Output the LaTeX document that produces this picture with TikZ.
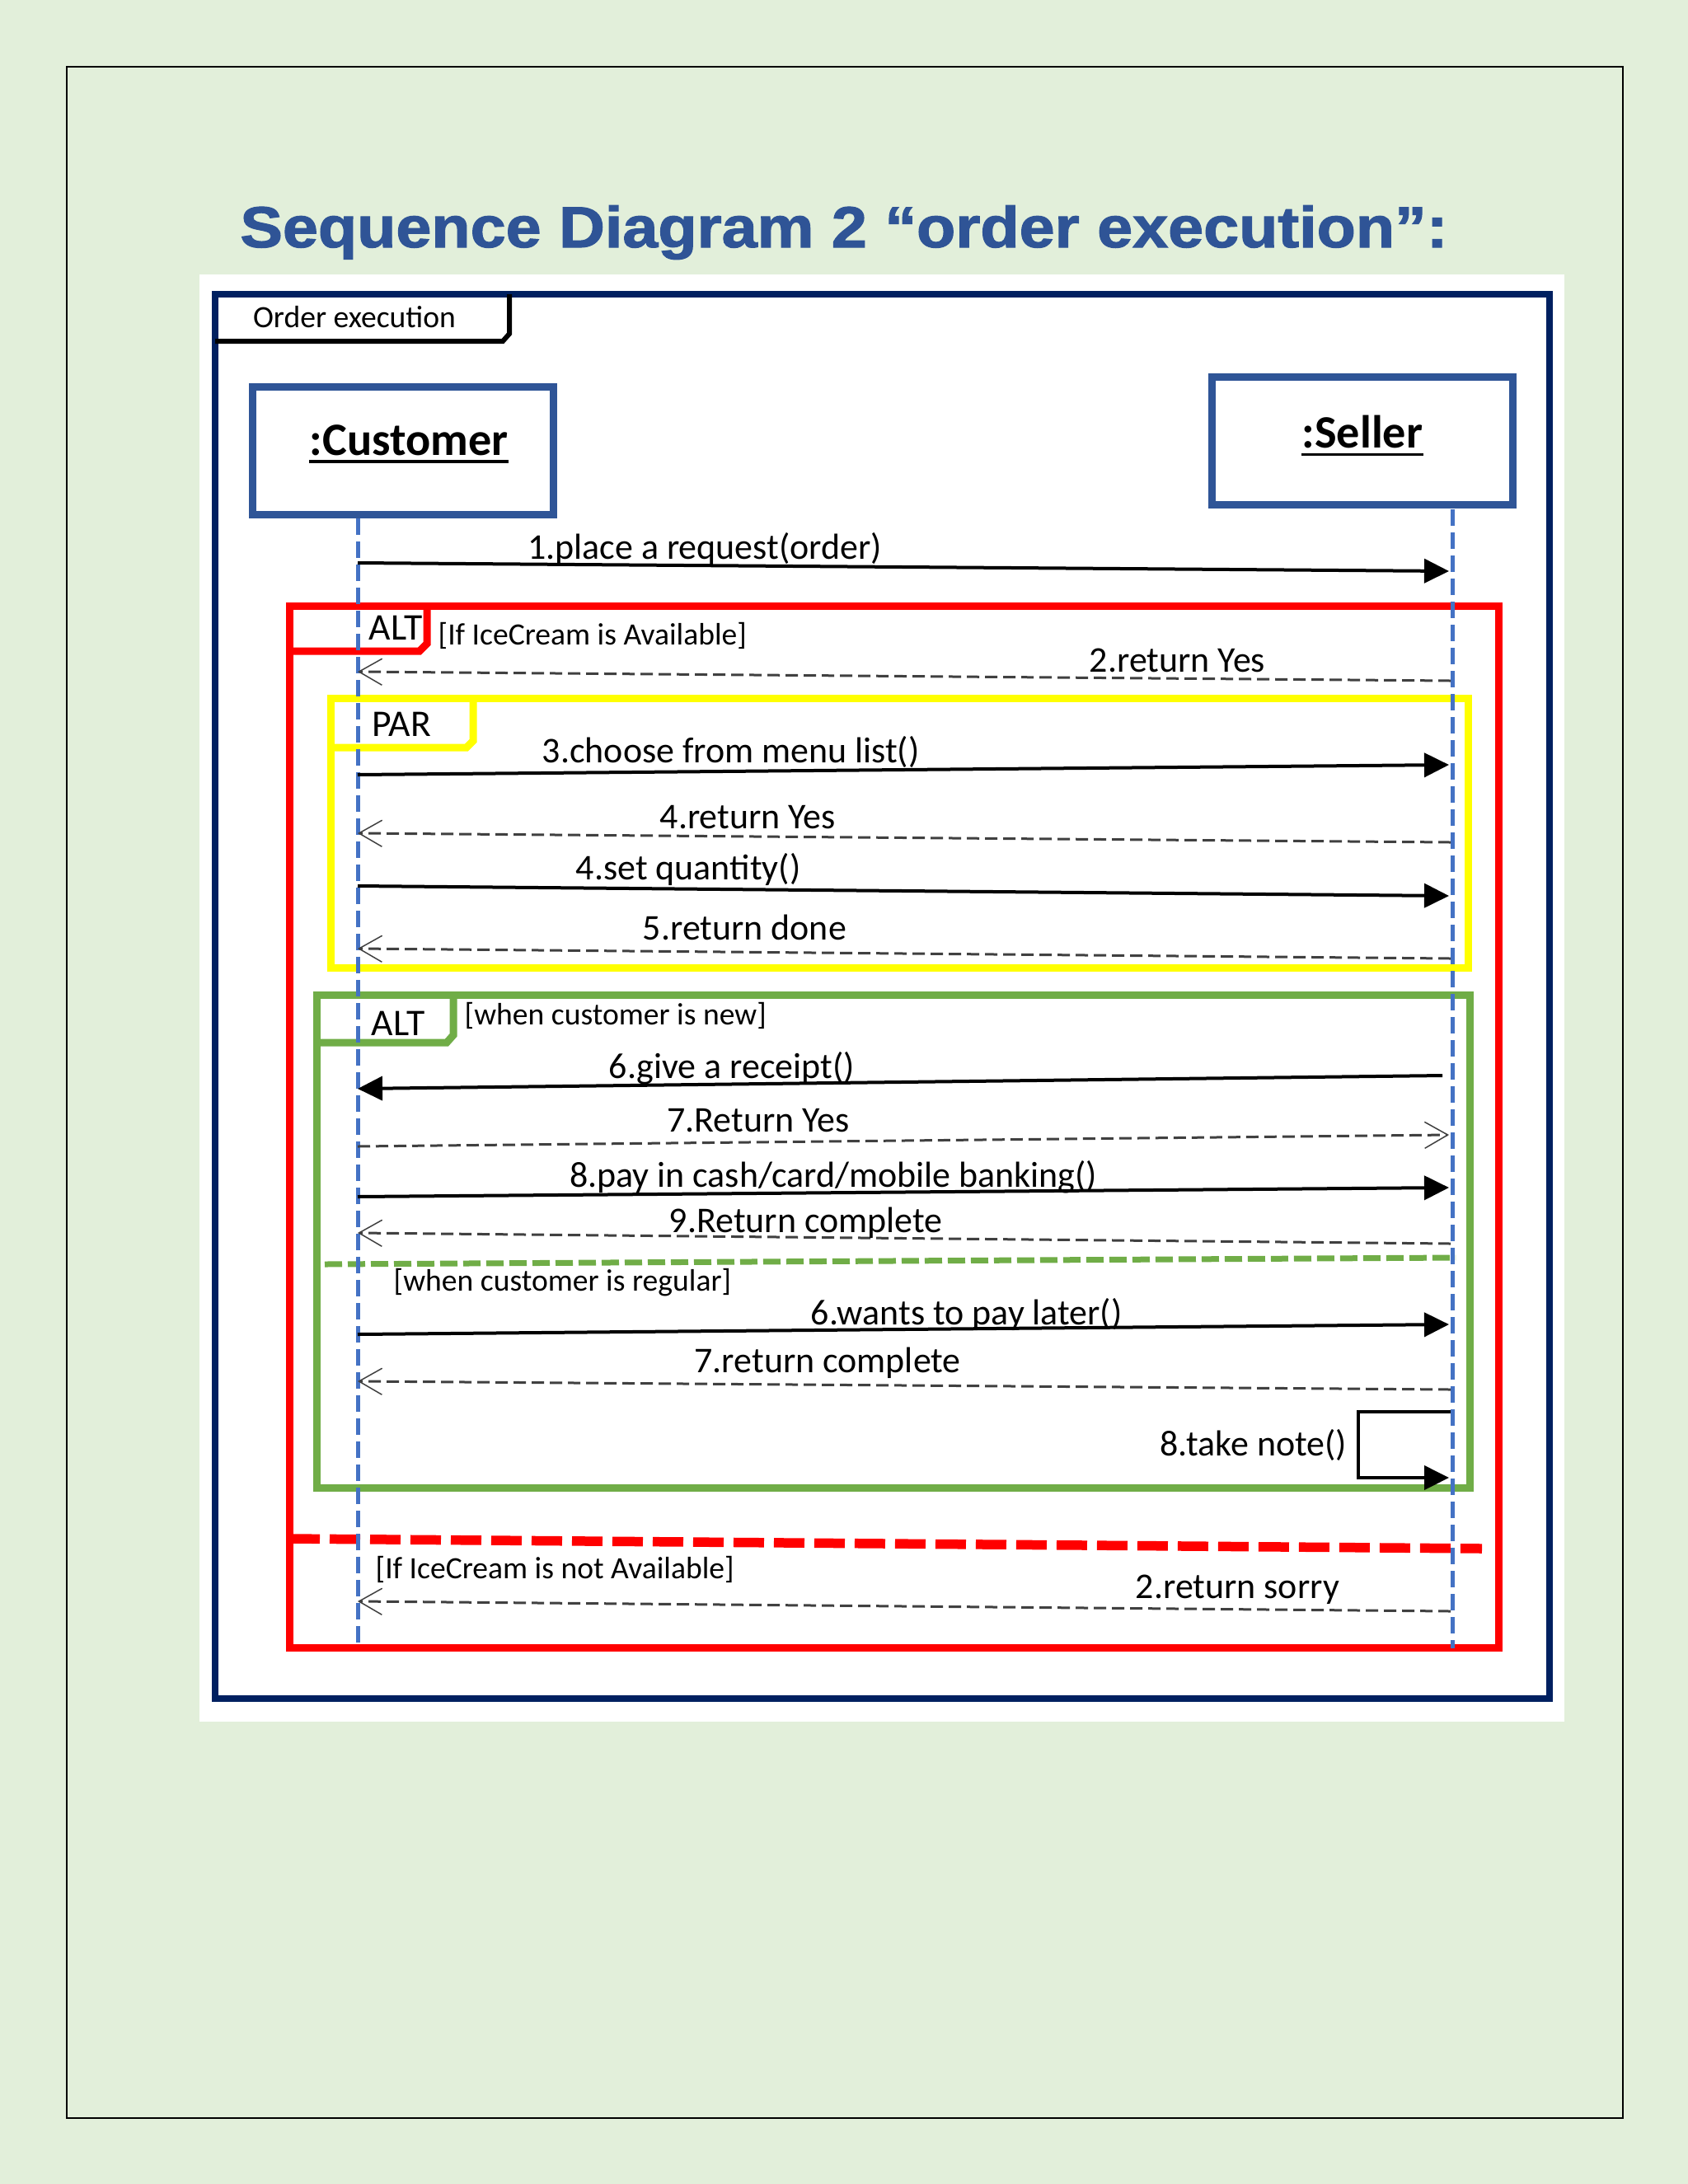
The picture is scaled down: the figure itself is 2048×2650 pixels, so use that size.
\documentclass[tikz,border=0pt]{standalone}
\usepackage{fontspec}
\setmainfont{Carlito}
\newfontfamily\headfont{Liberation Sans}[BoldFeatures={FakeBold=1.6}]
\usetikzlibrary{arrows.meta, positioning, calc}

\definecolor{pagegreen}{HTML}{E2EFDA}
\definecolor{titleblue}{HTML}{2F5496}
\definecolor{navy}{HTML}{002060}
\definecolor{boxblue}{HTML}{2F5597}
\definecolor{lifeblue}{HTML}{4472C4}
\definecolor{altred}{HTML}{FF0000}
\definecolor{paryellow}{HTML}{FFFF00}
\definecolor{altgreen}{HTML}{70AD47}

\begin{document}
\begin{tikzpicture}[
		x=0.1mm, y=-0.1mm,
		% Title & page
		mainTitle/.style={font=\headfont\bfseries\fontsize{20}{24}\selectfont, text=titleblue, inner sep=0pt, xscale=1.1},
		% Style for the object boxes and their lifelines
		objbox/.style={draw=boxblue, line width=0.9mm, minimum width=36.5mm, minimum height=15.5mm, inner sep=0pt},
		objname/.style={font=\bfseries\fontsize{16}{19}\selectfont, inner sep=0pt},
		uline/.style={line width=0.35mm},
		lifeline/.style={draw=lifeblue, line width=0.5mm, dash pattern=on 2mm off 0.8mm},
		% Combined fragments
		fragment/.style={draw=#1, line width=0.9mm},
		keyword/.style={font=\fontsize{13}{15}\selectfont, inner sep=0pt},
		guard/.style={font=\fontsize{10.7}{13}\selectfont, anchor=west, inner sep=0pt},
		% Messages
		sync/.style={line width=0.4mm, -{Triangle[length=3mm, width=2.9mm]}},
		reply/.style={line width=0.3mm, black!75, dash pattern=on 1.5mm off 0.7mm,
			-{Straight Barb[length=2.8mm, width=3.2mm, line width=0.15mm]}},
		msg label/.style={font=\fontsize{12.5}{15}\selectfont, inner sep=0pt, above=#1, text=black},
		msg label/.default=0.6mm
		]
		
		% ==============================================================================
		% PAGE
		% ==============================================================================
		\fill[pagegreen] (0,0) rectangle (2048,2650);
		\draw[line width=0.25mm] (81,81) rectangle (1969,2570);
		\node[mainTitle, anchor=base] (title) at (1024,300) {Sequence Diagram 2 “order execution”:};
		\fill[white] (242,333) rectangle (1898,2089);
		
		% Outer frame with its name tab
		\draw[draw=navy, line width=0.85mm] (261,357) rectangle (1880,2061);
		\draw[line width=0.6mm] (261,414) -- (610,414) -- (618,405) -- (618,357);
		\node[guard, anchor=center] (sdname) at (430,385) {Order execution};
		
		% ==============================================================================
		% OBJECTS
		% ==============================================================================
		\node[objbox] (cust) at (489,547) {};
		\node[objname] (custname) at ([xshift=0.7mm, yshift=1.3mm]cust.center) {:Customer};
		\draw[uline] ([yshift=-0.8mm]custname.base west) -- ([yshift=-0.8mm]custname.base east);
		
		\node[objbox] (seller) at (1653,535) {};
		\node[objname] (sellername) at ([yshift=1.1mm]seller.center) {:Seller};
		\draw[uline] ([yshift=-0.8mm]sellername.base west) -- ([yshift=-0.8mm]sellername.base east);
		
		\coordinate (cTop) at (434,629);
		\coordinate (cBot) at (434,2000);
		\coordinate (sTop) at (1762,618);
		\coordinate (sBot) at (1762,2000);
		
		% ==============================================================================
		% FRAGMENTS
		% ==============================================================================
		% ALT: icecream available / not available
		\draw[fragment=altred] (351,735) rectangle (1818,1999);
		\draw[fragment=altred] (351,790) -- (509,790) -- (518,781) -- (518,735);
		\node[keyword] (altA) at (480,762) {ALT};
		\node[guard] (gA1) at (531,771) {[If IceCream is Available]};
		\draw[altred, line width=1.15mm, dash pattern=on 3.7mm off 1.2mm] (351,1867) -- (1798,1879);
		\node[guard] (gA2) at (455,1904) {[If IceCream is not Available]};
		
		% PAR
		\draw[fragment=paryellow] (401,847) rectangle (1781,1174);
		\draw[fragment=paryellow] (401,907) -- (566,907) -- (574,899) -- (574,847);
		\node[keyword] (par) at (487,879) {PAR};
		
		% ALT: new / regular customer
		\draw[fragment=altgreen] (384,1207) rectangle (1783,1805);
		\draw[fragment=altgreen] (384,1265) -- (542,1265) -- (550,1256) -- (550,1207);
		\node[keyword] (altB) at (483,1242) {ALT};
		\node[guard] (gB1) at (563,1232) {[when customer is new]};
		\draw[altgreen, line width=0.7mm, dash pattern=on 2.1mm off 0.7mm] (394,1534) -- (1766,1526);
		\node[guard] (gB2) at (477,1556) {[when customer is regular]};
		
		% Lifelines
		\draw[lifeline] (cTop) -- (cBot);
		\draw[lifeline] (sTop) -- (sBot);
		
		% ==============================================================================
		% MESSAGES
		% ==============================================================================
		\coordinate (c1) at (434,683);   \coordinate (s1) at (1758,693);
		\coordinate (s2) at (1760,826);  \coordinate (c2) at (434,815);
		\coordinate (c3) at (434,940);   \coordinate (s3) at (1758,928);
		\coordinate (s4) at (1760,1022); \coordinate (c4) at (434,1011);
		\coordinate (c5) at (434,1075);  \coordinate (s5) at (1758,1087);
		\coordinate (s6) at (1760,1163); \coordinate (c6) at (434,1151);
		\coordinate (s7) at (1750,1305); \coordinate (c7) at (434,1321);
		\coordinate (c8) at (434,1391);  \coordinate (s8) at (1758,1377);
		\coordinate (c9) at (434,1452);  \coordinate (s9) at (1758,1441);
		\coordinate (s10) at (1760,1509); \coordinate (c10) at (434,1496);
		\coordinate (c11) at (434,1619); \coordinate (s11) at (1758,1607);
		\coordinate (s12) at (1760,1686); \coordinate (c12) at (434,1676);
		\coordinate (s13a) at (1760,1713); \coordinate (s13b) at (1758,1793);
		\coordinate (s14) at (1760,1955); \coordinate (c14) at (434,1943);
		
		\draw[sync] (c1) -- node[msg label=-0.1mm, pos=0.318] (t1) {1.place a request(order)} (s1);
		\draw[reply] (s2) -- node[msg label, pos=0.25] (t2) {2.return Yes} (c2);
		\draw[sync] (c3) -- node[msg label=0.25mm, pos=0.342] (t3) {3.choose from menu list()} (s3);
		\draw[reply] (s4) -- node[msg label=0.75mm, pos=0.643] (t4) {4.return Yes} (c4);
		\draw[sync] (c5) -- node[msg label=0.25mm, pos=0.303] (t5) {4.set quantity()} (s5);
		\draw[reply] (s6) -- node[msg label=1.3mm, pos=0.646] (t6) {5.return done} (c6);
		\draw[sync] (s7) -- node[msg label=-0.25mm, pos=0.655] (t7) {6.give a receipt()} (c7);
		\draw[reply] (c8) -- node[msg label=1.1mm, pos=0.367] (t8) {7.Return Yes} (s8);
		\draw[sync] (c9) -- node[msg label=-0.25mm, pos=0.436] (t9) {8.pay in cash/card/mobile banking()} (s9);
		\draw[reply] (s10) -- node[msg label=-0.25mm, pos=0.59] (t10) {9.Return complete} (c10);
		\draw[sync] (c11) -- node[msg label=-0.4mm, pos=0.558] (t11) {6.wants to pay later()} (s11);
		\draw[reply] (s12) -- node[msg label, pos=0.57] (t12) {7.return complete} (c12);
		\draw[sync] (s13a) -- ++(-112,0) |- node[msg label=0pt, pos=0.25, left=1.2mm] (t13) {8.take note()} (s13b);
		\draw[reply] (s14) -- node[msg label=0.45mm, pos=0.195] (t14) {2.return sorry} (c14);
	\end{tikzpicture}
\end{document}
